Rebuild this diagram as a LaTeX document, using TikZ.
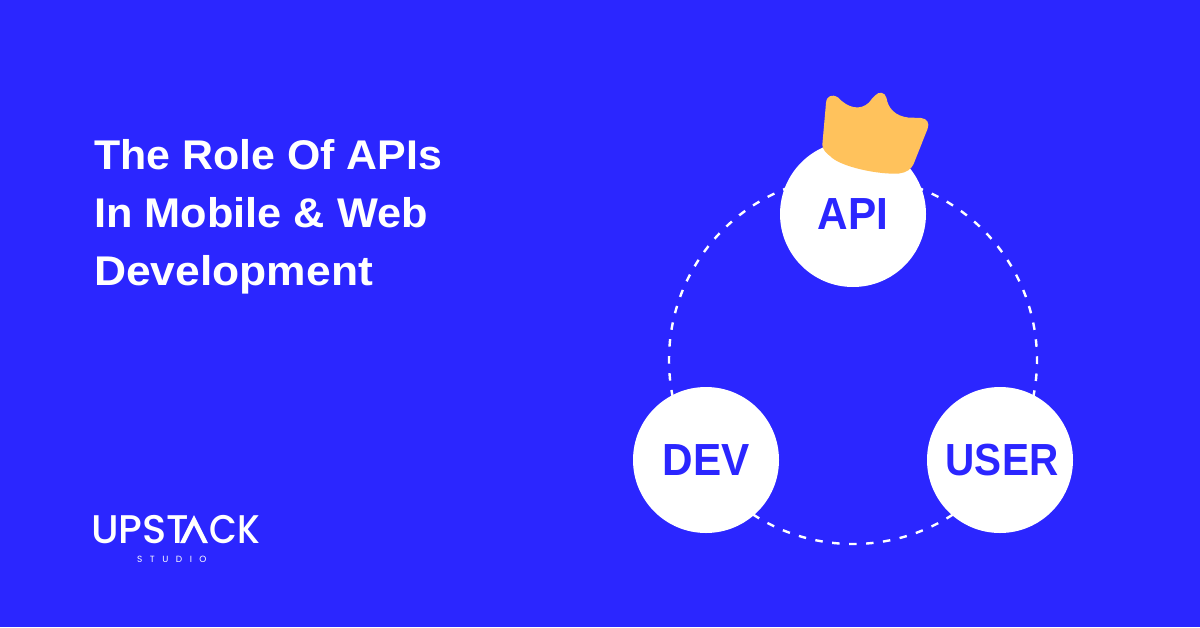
\documentclass[tikz,border=0pt]{standalone}
\usepackage{fontspec}
\setmainfont{Liberation Sans}
\newfontfamily\logofont{Poppins Medium}
\newfontfamily\logoCK[FakeStretch=0.9]{Poppins Medium}
\newfontfamily\logosmall{Poppins}
\newfontfamily\hubfont[FakeStretch=0.94]{Liberation Sans Bold}
\newfontfamily\userfont[FakeStretch=0.90]{Liberation Sans Bold}
\newfontfamily\titleA[FakeStretch=1.033]{Liberation Sans Bold}
\newfontfamily\titleB[FakeStretch=1.044]{Liberation Sans Bold}
\newfontfamily\titleC[FakeStretch=1.07]{Liberation Sans Bold}
\definecolor{bgblue}{HTML}{2B26FF}
\definecolor{crown}{HTML}{FFC25C}
\tikzset{
  hub/.style={circle,fill=white,text=bgblue,minimum size=146pt,inner sep=0pt,font=\hubfont\fontsize{45}{45}\selectfont},
  ringline/.style={circle,draw=white,line width=2.4pt,minimum size=368pt,inner sep=0pt,outer sep=0pt,dash pattern=on 7.5pt off 9.5pt,dash phase=3.75pt},
  titleline/.style={anchor=base west,text=white,inner sep=0pt},
  logotext/.style={anchor=base west,text=white,inner sep=0pt}
}
\begin{document}
\begin{tikzpicture}[x=1pt,y=-1pt]
\fill[bgblue] (0,0) rectangle (1200,627);
\useasboundingbox (0,0) rectangle (1200,627);
\node[titleline,font=\titleA\fontsize{41.5}{41.5}\selectfont] (t1) at (94,169) {The Role Of APIs};
\node[titleline,font=\titleB\fontsize{41.5}{41.5}\selectfont] (t2) at (94,227) {In Mobile \& Web};
\node[titleline,font=\titleC\fontsize{41.5}{41.5}\selectfont] (t3) at (94,285) {Development};
\node[ringline] (ring) at (853,360) {};
\node[hub] (api) at (853,214) {API};
\node[hub] (dev) at (706,460) {DEV};
\node[hub,font=\userfont\fontsize{45}{45}\selectfont] (user) at (1000,460) {\hspace{4pt}USER};
\fill[crown] (822.3,145) -- (826,103)
  .. controls (826.5,96) and (832,93.5) .. (838,97.5)
  .. controls (848,108) and (860,111) .. (869,102.5)
  .. controls (871,100) and (873,97) .. (875,95.5)
  .. controls (879,91) and (885,92) .. (886.5,98)
  .. controls (888,108) and (895,116) .. (908,117.5)
  -- (921,118)
  .. controls (927,118.5) and (930,123) .. (927.5,129)
  -- (914,163)
  .. controls (911,170) and (906,172.5) .. (899,173.5)
  .. controls (880,175) and (840,167) .. (830,156)
  .. controls (826,153) and (823,150) .. (822.3,145) -- cycle;
\node[logotext,font=\logofont\fontsize{40}{40}\selectfont] (logo1) at (91,543) {UPST};
\fill[white] (180,543) -- (194,515) -- (208,543) -- (203,543) -- (194,525) -- (185,543) -- cycle;
\node[logotext,font=\logoCK\fontsize{40}{40}\selectfont] (logo2) at (209,543) {CK};
\node[logotext,font=\logosmall\fontsize{9}{9}\selectfont] (logo3) at (137,562) {S\hspace{7.5pt}T\hspace{7.5pt}U\hspace{7.5pt}D\hspace{7.5pt}I\hspace{7.5pt}O};
\end{tikzpicture}
\end{document}
